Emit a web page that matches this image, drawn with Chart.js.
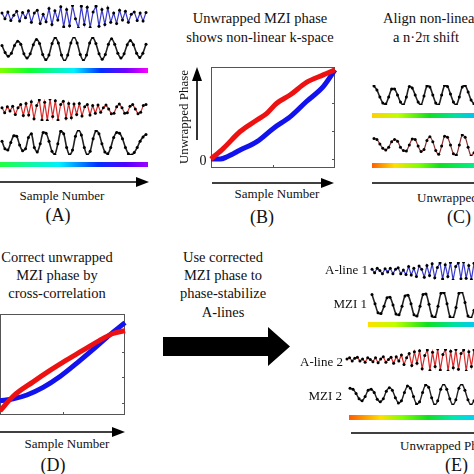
<!DOCTYPE html>
<html lang="en">
<head>
<meta charset="UTF-8">
<title>Phase stabilization with MZI</title>
<script src="https://cdn.jsdelivr.net/npm/chart.js"></script>
<style>
  html, body { margin: 0; padding: 0; background: #fff; }
  #page { position: relative; width: 474px; height: 474px; overflow: hidden; background: #fff;
          font-family: "Liberation Serif", "DejaVu Serif", serif; color: #111; }
  #page canvas { position: absolute; }
  .t { position: absolute; white-space: nowrap; line-height: 1; font-family: "Liberation Serif", serif; font-weight: normal; }
  .c { transform: translate(-50%, -50%); }
  .l { transform: translateY(-50%); }
  .r { transform: translate(-100%, -50%); }
  .bar { position: absolute; height: 5px; }
</style>
</head>
<body>
<div id="page">
  <svg width="474" height="474" style="position:absolute;left:0;top:0">
    <g stroke="#000" stroke-width="1.6">
      <line x1="0" y1="182" x2="139" y2="182"/>
      <line x1="212" y1="183" x2="322" y2="183"/>
      <line x1="197" y1="140" x2="197" y2="80"/>
      <line x1="0" y1="432" x2="114" y2="432"/>
      <line x1="372" y1="183" x2="474" y2="183"/>
      <line x1="351" y1="433" x2="474" y2="433"/>
    </g>
    <g fill="#000">
      <polygon points="136,177 149,182 136,187"/>
      <polygon points="321,178 334,183 321,188"/>
      <polygon points="192,81 197,67 202,81"/>
      <polygon points="112,427 125,432 112,437"/>
      <polygon points="163,337 268,337 268,327 290,346.5 268,366 268,356 163,356"/>
    </g>
  </svg>

  <!-- rainbow bars -->
  <div class="bar" style="left:0;top:68px;width:148px;background:linear-gradient(to right,#80ff00,#10ff30 20%,#00f0ff 50%,#0030ff 68%,#7000ff 85%,#ff00ff)"></div>
  <div class="bar" style="left:0;top:162px;width:148px;background:linear-gradient(to right,#20ff40,#00f0ff 40%,#0030ff 66%,#5000ff 85%,#a000ff)"></div>
  <div class="bar" style="left:372px;top:113px;width:104px;background:linear-gradient(to right,#ffd000,#c0ff00 25%,#10e020 55%,#00e0a0 80%,#00c0ff)"></div>
  <div class="bar" style="left:372px;top:163px;width:104px;background:linear-gradient(to right,#ff6000,#ffe000 22%,#80ff00 45%,#10e020 65%,#00f090)"></div>
  <div class="bar" style="left:368px;top:322px;width:108px;background:linear-gradient(to right,#ffe000,#c0ff00 25%,#10e020 55%,#00e0a0 80%,#00c8ff)"></div>
  <div class="bar" style="left:349px;top:415px;width:127px;background:linear-gradient(to right,#ff5a00,#ffe000 25%,#80ff00 42%,#10e020 62%,#00e8b0 82%,#00d0ff)"></div>

  <canvas id="aLine1A" width="152" height="31" style="left:-2px;top:1px"></canvas>
  <canvas id="mzi1A" width="152" height="32" style="left:-2px;top:33px"></canvas>
  <canvas id="aLine2A" width="152" height="30" style="left:-2px;top:95px"></canvas>
  <canvas id="mzi2A" width="152" height="33" style="left:-2px;top:126px"></canvas>
  <canvas id="mziC" width="108" height="28" style="left:370px;top:81px"></canvas>
  <canvas id="sig2C" width="108" height="30" style="left:370px;top:130px"></canvas>
  <canvas id="aLine1E" width="110" height="26" style="left:368px;top:258px"></canvas>
  <canvas id="mzi1E" width="110" height="34" style="left:368px;top:288px"></canvas>
  <canvas id="aLine2E" width="135" height="30" style="left:343px;top:345px"></canvas>
  <canvas id="mzi2E" width="132" height="29" style="left:346px;top:380px"></canvas>
  <canvas id="phaseB" width="136" height="113" style="left:205px;top:61px"></canvas>
  <canvas id="phaseD" width="137" height="113" style="left:-6px;top:308px"></canvas>

  <div class="t c" style="left:260px;top:18px;font-size:14.5px">Unwrapped MZI phase</div>
  <div class="t c" style="left:260px;top:37px;font-size:14.5px">shows non-linear k-space</div>
  <div class="t l" style="left:383px;top:18px;font-size:14.5px">Align non-linear phase by</div>
  <div class="t l" style="left:393px;top:37px;font-size:14.5px">a n·2π shift</div>
  <div class="t c" style="left:62px;top:195px;font-size:13px">Sample Number</div>
  <div class="t c" style="left:58px;top:215px;font-size:18px">(A)</div>
  <div class="t c" style="left:277px;top:193px;font-size:13px">Sample Number</div>
  <div class="t c" style="left:262px;top:217px;font-size:18px">(B)</div>
  <div class="t c" style="left:203px;top:161px;font-size:14px">0</div>
  <div class="t c" style="left:183px;top:117px;font-size:13px;transform:translate(-50%,-50%) rotate(-90deg)">Unwrapped Phase</div>
  <div class="t l" style="left:417px;top:197px;font-size:13px">Unwrapped Phase</div>
  <div class="t l" style="left:447px;top:217px;font-size:18px">(C)</div>
  <div class="t c" style="left:57px;top:257px;font-size:14.5px">Correct unwrapped</div>
  <div class="t c" style="left:57px;top:275px;font-size:14.5px">MZI phase by</div>
  <div class="t c" style="left:57px;top:293px;font-size:14.5px">cross-correlation</div>
  <div class="t c" style="left:67px;top:443px;font-size:13px">Sample Number</div>
  <div class="t c" style="left:53px;top:465px;font-size:18px">(D)</div>
  <div class="t c" style="left:223px;top:257px;font-size:14.5px">Use corrected</div>
  <div class="t c" style="left:223px;top:275px;font-size:14.5px">MZI phase to</div>
  <div class="t c" style="left:223px;top:293px;font-size:14.5px">phase-stabilize</div>
  <div class="t c" style="left:223px;top:312px;font-size:14.5px">A-lines</div>
  <div class="t r" style="left:368px;top:269px;font-size:13px">A-line 1</div>
  <div class="t r" style="left:367px;top:303px;font-size:13px">MZI 1</div>
  <div class="t r" style="left:343px;top:361px;font-size:13px">A-line 2</div>
  <div class="t r" style="left:342px;top:395px;font-size:13px">MZI 2</div>
  <div class="t l" style="left:400px;top:445px;font-size:13px">Unwrapped Phase</div>
  <div class="t l" style="left:445px;top:465px;font-size:18px">(E)</div>
</div>

<script>
// signals (normalised amplitude, one value per sample)
const aLine1A = [0.3,-0.2,0.4,-0.35,0.1,0.45,-0.4,0.35,-0.1,0.5,-0.5,0.3,0.55,-0.6,0.2,-0.45,0.7,-0.7,0.5,-0.3,0.85,-0.9,0.6,-0.8,0.95,-0.2,-1.0,0.9,-0.7,0.8,-0.95,0.4,0.9,-0.85,0.6,-0.7,0.75,-0.5,0.3,-0.6,0.55,-0.3,0.45,-0.5,0.2,0.4,-0.35,0.3,-0.4,0.35];
const mzi1A = [0.3,-0.3,-0.6,-0.35,0.3,0.65, 0.4,-0.4,-0.75,-0.4,0.35,0.8, 0.45,-0.45,-0.9,-0.5,0.45,0.95, 0.5,-0.5,-1.0,-0.5,0.5,1.0, 0.5,-0.45,-0.95,-0.5,0.5,0.95, 0.45,-0.4,-0.85,-0.45,0.4,0.85, 0.4,-0.35,-0.75,-0.4,0.35,0.7, 0.35,-0.35,-0.7,-0.35,0.4];
const aLine2A = [0.2,-0.25,0.3,-0.1,0.35,-0.4,0.2,0.5,-0.5,0.6,-0.45,0.75,-0.8,0.4,0.9,-0.9,0.7,-0.95,1.0,-0.6,0.85,-0.9,0.5,0.8,-0.75,0.6,-0.7,0.55,-0.4,0.6,-0.55,0.3,0.5,-0.45,0.4,-0.3,0.45,-0.2,0.2,0.45,0.1,-0.35,-0.3,0.3,0.55,0.2,-0.3,-0.25,0.35,0.5,0.1,-0.35,-0.2,0.4,0.5];
const mzi2A = [0.1,-0.5,-0.6,0.0,0.55,0.5,-0.2,-0.65,-0.5,0.4,0.7,-0.4,-0.75,-0.1,0.8,0.75,0.1,-0.7,-0.95,-0.1,0.9,0.7,-0.4,-1.0,-0.6,0.5,1.0,0.6,-0.4,-1.0,-0.7,0.3,0.95,0.7,-0.1,-0.75,-0.9,-0.4,0.4,0.8,0.75,0.3,-0.4,-0.9,-1.0,-0.8,-0.4,0.1,0.45,0.65];
const mziC = [0.9,0.5,-0.2,-0.8,-0.9,-0.2,0.6,0.6,0.0,-0.7,-1.0,-0.2,0.85,0.7,0.0,-0.7,-1.0,-0.1,0.9,0.8,0.0,-0.8,-1.0,0.0,0.95,0.85,0.1,-0.7,-1.0,-0.2,0.8,0.95,0.3,-0.5,-0.9];
const sig2C = [0.6,0.5,0.1,-0.3,-0.45,-0.2,0.3,0.5,0.35,-0.2,-0.5,-0.55,0.0,0.55,0.5,-0.1,-0.6,-0.4,0.4,0.75,0.3,-0.5,-0.85,-0.1,0.8,0.7,0.0,-0.8,-0.9,0.0,0.9,0.7,-0.2,-1.0,-0.7];
const aLine1E = [0.2,-0.2,0.3,0.05,-0.3,0.25,-0.1,0.3,-0.3,0.2,0.35,-0.3,0.1,-0.4,0.5,-0.45,0.3,-0.6,0.55,0.2,-0.7,0.6,-0.5,0.8,-0.75,0.4,0.9,-0.9,0.7,-0.6,0.95,-1.0,0.5,0.9,-0.85,1.0,-0.8,0.6,-0.95,0.85];
const mzi1E = [0.8,0.1,-0.6,-0.65,-0.1,0.55,0.6,0.0,-0.7,-0.75,-0.1,0.7,0.75,0.1,-0.75,-0.85,-0.1,0.8,0.85,0.05,-0.85,-0.95,-0.1,0.9,0.95,0.1,-0.9,-1.0,-0.2,0.9,1.0,0.2,-0.85,-1.0,-0.4];
const aLine2E = [0.1,0.2,-0.1,0.15,0.25,-0.1,0.1,-0.2,0.2,0.05,-0.15,0.2,-0.25,0.1,0.3,-0.2,0.05,0.25,-0.3,0.3,-0.1,0.45,-0.4,0.2,0.6,-0.5,0.75,-0.3,0.85,-0.8,0.4,0.9,-0.95,0.7,-0.6,1.0,-0.9,0.5,0.95,-1.0,0.8,-0.7,0.95,-0.85,0.6,0.9,-1.0,0.75,-0.6,0.9];
const mzi2E = [0.6,0.5,0.1,-0.4,-0.6,-0.2,0.4,0.5,0.2,-0.45,-0.7,-0.4,0.3,0.65,0.4,-0.3,-0.8,-0.6,0.2,0.8,0.6,-0.2,-0.9,-0.7,0.2,0.9,0.7,-0.3,-1.0,-0.6,0.5,1.0,0.5,-0.4,-1.0,-0.5,0.6,1.0,0.4,-0.5,-1.0,-0.6];

// unwrapped phase curves (x = sample number, y = phase)
const redBx = [0,0.2,0.47,0.74,0.9,1.06,1.28,1.54,1.81,2.0];
const redBy = [0,0.38,0.98,1.39,1.63,1.99,2.29,2.73,3.0,3.18];
const blueBx = [0,0.15,0.26,0.47,0.74,1.01,1.28,1.54,1.81,2.0];
const blueBy = [0,0,0.08,0.32,0.62,1.1,1.51,2.05,2.58,3.18];
const redDx = [0,0.21,0.53,0.8,1.01,1.33,1.6,1.81,2.0];
const redDy = [-0.33,0.25,0.82,1.27,1.6,2.07,2.47,2.73,2.84];
const blueDx = [0,0.21,0.43,0.69,0.96,1.23,1.49,1.71,1.92,2.0];
const blueDy = [0.07,0.15,0.3,0.6,1.03,1.56,2.1,2.58,3.0,3.16];
const phaseYTicks = [0, 1, 2];
const phaseXTicks = [1];

function signal(id, values, color, width, tension) {
  new Chart(document.getElementById(id), {
    type: 'line',
    data: {
      labels: values.map((v, i) => i),
      datasets: [{
        data: values,
        borderColor: color,
        borderWidth: width,
        tension: tension,
        pointRadius: 1.5,
        pointBorderWidth: 0,
        pointBackgroundColor: '#000'
      }]
    },
    options: {
      responsive: false,
      animation: false,
      layout: { padding: 2 },
      plugins: { legend: { display: false }, tooltip: { enabled: false } },
      scales: {
        x: { display: false },
        y: { display: false, min: -1, max: 1 }
      }
    }
  });
}

signal('aLine1A', aLine1A, '#3a3ac8', 1.2, 0);
signal('mzi1A', mzi1A, '#222', 1.6, 0.3);
signal('aLine2A', aLine2A, '#d82a2a', 1.2, 0);
signal('mzi2A', mzi2A, '#222', 1.6, 0.3);
signal('mziC', mziC, '#222', 1.6, 0.3);
signal('sig2C', sig2C, '#8a3030', 1.2, 0.3);
signal('aLine1E', aLine1E, '#3a3ac8', 1.2, 0);
signal('mzi1E', mzi1E, '#222', 1.6, 0.3);
signal('aLine2E', aLine2E, '#d82a2a', 1.2, 0);
signal('mzi2E', mzi2E, '#222', 1.4, 0.3);

// box with inward ticks, like the matlab plot
const framePlugin = {
  id: 'frame',
  beforeDatasetsDraw(chart) {
    const { ctx, chartArea: a, scales } = chart;
    ctx.save();
    ctx.strokeStyle = '#555';
    ctx.lineWidth = 1;
    ctx.strokeRect(a.left + 0.5, a.top + 0.5, a.width - 1, a.height - 1);
    ctx.beginPath();
    phaseYTicks.forEach(v => {
      const y = Math.round(scales.y.getPixelForValue(v)) + 0.5;
      ctx.moveTo(a.right, y); ctx.lineTo(a.right - 3, y);
    });
    phaseXTicks.forEach(v => {
      const x = Math.round(scales.x.getPixelForValue(v)) + 0.5;
      ctx.moveTo(x, a.bottom); ctx.lineTo(x, a.bottom - 3);
    });
    ctx.stroke();
    ctx.restore();
  }
};

function phasePlot(id, rx, ry, bx, by, ymin, ymax) {
  const pts = (xs, ys) => xs.map((x, i) => ({ x: x, y: ys[i] }));
  const style = { borderWidth: 5, pointRadius: 0, cubicInterpolationMode: 'monotone', clip: false };
  new Chart(document.getElementById(id), {
    type: 'line',
    data: {
      datasets: [
        Object.assign({ data: pts(rx, ry), borderColor: '#ee1111' }, style),
        Object.assign({ data: pts(bx, by), borderColor: '#1212ee' }, style)
      ]
    },
    options: {
      responsive: false,
      animation: false,
      layout: { padding: 6 },
      plugins: { legend: { display: false }, tooltip: { enabled: false } },
      scales: {
        x: { type: 'linear', display: false, min: 0, max: 2 },
        y: { display: false, min: ymin, max: ymax }
      }
    },
    plugins: [framePlugin]
  });
}

phasePlot('phaseB', redBx, redBy, blueBx, blueBy, -0.32, 3.28);
phasePlot('phaseD', redDx, redDy, blueDx, blueDy, -0.49, 3.5);
</script>
</body>
</html>
